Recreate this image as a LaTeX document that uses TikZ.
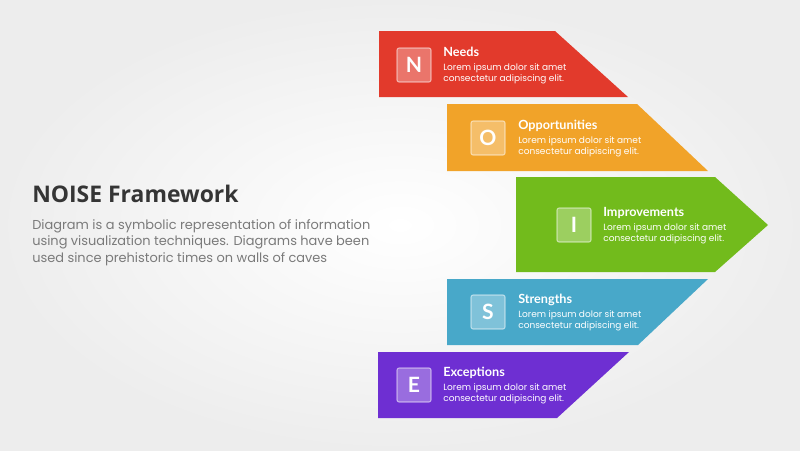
\documentclass[tikz,border=0pt]{standalone}
\usepackage{fontspec}
\setmainfont{Poppins}
\newfontfamily\headfont{Open Sans}
\newfontfamily\labelfont{Lato}
\usetikzlibrary{positioning}

\definecolor{needsred}{HTML}{E23A2C}
\definecolor{opporange}{HTML}{F1A329}
\definecolor{impgreen}{HTML}{72BB1C}
\definecolor{strblue}{HTML}{48A8C9}
\definecolor{exviolet}{HTML}{6E2FD2}
\definecolor{titlegray}{HTML}{353535}
\definecolor{textgray}{HTML}{7A7A7A}

\tikzset{
  iconbox/.style={draw=white, draw opacity=0.5, fill=white, fill opacity=0.3,
    text opacity=1, line width=0.8pt, rounded corners=1.5pt, minimum size=0.85cm,
    inner sep=0pt, text=white, font=\labelfont\bfseries\fontsize{15}{15}\selectfont},
  headline/.style={inner sep=0pt, anchor=base west, text=white,
    font=\labelfont\bfseries\fontsize{9}{10}\selectfont},
  blurb/.style={inner sep=0pt, anchor=north west, align=left, text=white,
    font=\fontsize{6.4}{7.8}\selectfont}
}

\begin{document}
\begin{tikzpicture}[x=0.025cm, y=-0.025cm]
	\useasboundingbox (0,0) rectangle (800,450);
	\shade[inner color=white, outer color=gray!14] (0,0) rectangle (800,450);

	% left side
	\node[inner sep=0pt, anchor=base west, text=titlegray,
		font=\headfont\bfseries\fontsize{16.3}{20}\selectfont] (heading) at (32,202) {NOISE Framework};
	\node[inner sep=0pt, anchor=north west, align=left, text=textgray,
		font=\fontsize{9.2}{11.8}\selectfont] (summary) at (32,219)
		{Diagram is a symbolic representation of information\\
		 using visualization techniques. Diagrams have been\\
		 used since prehistoric times on walls of caves};

	% N
	\fill[needsred] (379,31) -- (555,31) -- (628,97) -- (379,97) -- cycle;
	\node[iconbox] (needs-icon) at (414,65) {N};
	\node[headline] (needs-title) at (443,56) {Needs};
	\node[blurb] (needs-text) at (443,63) {Lorem ipsum dolor sit amet\\consectetur adipiscing elit.};

	% O
	\fill[opporange] (447,104) -- (637,104) -- (708,171) -- (447,171) -- cycle;
	\node[iconbox] (opp-icon) at (488,138) {O};
	\node[headline] (opp-title) at (518,129) {Opportunities};
	\node[blurb] (opp-text) at (518,136) {Lorem ipsum dolor sit amet\\consectetur adipiscing elit.};

	% I
	\fill[impgreen] (516,177) -- (715,177) -- (768,225) -- (715,272) -- (516,272) -- cycle;
	\node[iconbox] (imp-icon) at (574,225) {I};
	\node[headline] (imp-title) at (603,216) {Improvements};
	\node[blurb] (imp-text) at (603,223) {Lorem ipsum dolor sit amet\\consectetur adipiscing elit.};

	% S
	\fill[strblue] (447,279) -- (708,279) -- (638,345) -- (447,345) -- cycle;
	\node[iconbox] (str-icon) at (488,312) {S};
	\node[headline] (str-title) at (518,303) {Strengths};
	\node[blurb] (str-text) at (518,310) {Lorem ipsum dolor sit amet\\consectetur adipiscing elit.};

	% E
	\fill[exviolet] (378,352) -- (629,352) -- (557,418) -- (378,418) -- cycle;
	\node[iconbox] (ex-icon) at (414,385) {E};
	\node[headline] (ex-title) at (443,376) {Exceptions};
	\node[blurb] (ex-text) at (443,383) {Lorem ipsum dolor sit amet\\consectetur adipiscing elit.};
\end{tikzpicture}
\end{document}
